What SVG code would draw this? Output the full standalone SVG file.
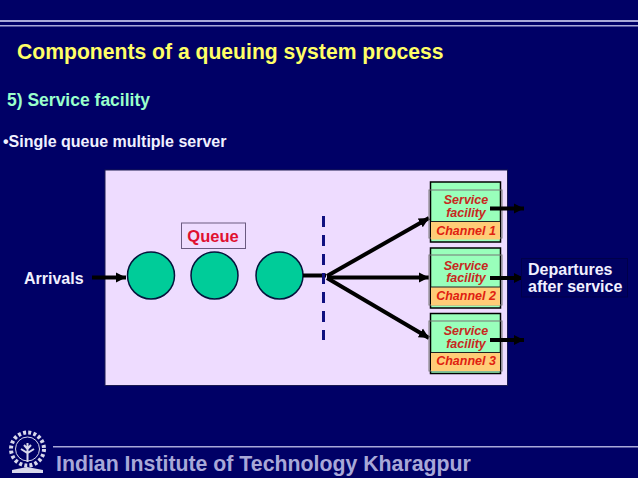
<svg xmlns="http://www.w3.org/2000/svg" width="638" height="478" viewBox="0 0 638 478">
<style>
text{font-family:"Liberation Sans",Arial,sans-serif;font-weight:bold}
.rule{fill:#a8a8d8}
.cust{fill:#00cc99;stroke:#04143c;stroke-width:1.5}
.conn{stroke:#000;stroke-width:4;fill:none}
.out{stroke:#000;stroke-width:4;fill:none}
.sf{fill:#c8281e;font-style:italic;font-size:12.5px;text-anchor:middle}
.ch{fill:#e02010;font-style:italic;font-size:12.5px;text-anchor:middle}
.w{fill:#f0f0ff;font-size:16px}
</style>
<defs>
<marker id="ah" markerUnits="userSpaceOnUse" markerWidth="12" markerHeight="12" refX="10" refY="6" orient="auto"><path d="M0,1L10,6L0,11Z" fill="#000"/></marker>
</defs>
<rect width="638" height="478" fill="#000066"/>
<rect class="rule" x="0" y="20" width="638" height="2"/>
<rect class="rule" x="0" y="25" width="638" height="1.500"/>
<text x="17" y="59" font-size="21.150" fill="#ffff66">Components of a queuing system process</text>
<text x="7" y="106" font-size="17.500" fill="#99ffcc">5) Service facility</text>
<text x="3" y="147" font-size="16" fill="#f0f0ff">•Single queue multiple server</text>
<rect x="105" y="170" width="402.500" height="215.500" fill="#eedcff" stroke="#1a1a50"/>
<g id="queue-label"><rect x="181.500" y="223" width="64" height="25.500" fill="#eedcff" stroke="#6a5a80" stroke-width="1"/><text x="213" y="242" font-size="16.500" fill="#e01030" text-anchor="middle">Queue</text></g>
<g id="customer-1"><circle class="cust" cx="151" cy="275.500" r="23.500"/></g>
<g id="customer-2"><circle class="cust" cx="214.500" cy="275.500" r="23.500"/></g>
<g id="customer-3"><circle class="cust" cx="279.500" cy="275.500" r="23.500"/></g>
<g id="connectors">
<path class="conn" d="M303,275.500H326" stroke-width="3.500"/>
<path class="conn" d="M327,276L429,218" marker-end="url(#ah)"/>
<path class="conn" d="M327,277.500H429" marker-end="url(#ah)"/>
<path class="conn" d="M327,278L429,338" marker-end="url(#ah)"/>
<path class="conn" d="M92,277.500H126" marker-end="url(#ah)"/>
<path d="M323.500,216V340" stroke="#101080" stroke-width="3" stroke-dasharray="11 8" fill="none"/>
</g>
<g id="channel-1"><rect x="430.500" y="182" width="70" height="60" fill="#99ffbb" stroke="#000" stroke-width="1.500"/><rect x="429" y="190" width="73" height="48" fill="none" stroke="#777" stroke-width="1"/><rect x="431" y="221.500" width="69" height="18" fill="#ffcc77"/><path d="M431,221.500H500" stroke="#222"/><text class="sf" x="466" y="204">Service</text><text class="sf" x="466" y="216.500">facility</text><text class="ch" x="466" y="234.500">Channel 1</text></g>
<g id="channel-2"><rect x="430.500" y="248" width="70" height="60" fill="#99ffbb" stroke="#000" stroke-width="1.500"/><rect x="429" y="255" width="73" height="50" fill="none" stroke="#777" stroke-width="1"/><rect x="431" y="287" width="69" height="18.500" fill="#ffcc77"/><path d="M431,287H500" stroke="#222"/><text class="sf" x="466" y="269.500">Service</text><text class="sf" x="466" y="282">facility</text><text class="ch" x="466" y="300">Channel 2</text></g>
<g id="channel-3"><rect x="430.500" y="313.500" width="70" height="60" fill="#99ffbb" stroke="#000" stroke-width="1.500"/><rect x="429" y="321" width="73" height="50" fill="none" stroke="#777" stroke-width="1"/><rect x="431" y="352.500" width="69" height="18.500" fill="#ffcc77"/><path d="M431,352.500H500" stroke="#222"/><text class="sf" x="466" y="335">Service</text><text class="sf" x="466" y="347.500">facility</text><text class="ch" x="466" y="365">Channel 3</text></g>
<g id="out-connectors">
<path class="out" d="M490,208.500H524" marker-end="url(#ah)"/>
<path class="out" d="M490,278H524" marker-end="url(#ah)"/>
<path class="out" d="M490,340H524" marker-end="url(#ah)"/>
</g>
<g id="arrivals"><text class="w" x="24" y="283.500">Arrivals</text></g>
<g id="departures"><rect x="521.500" y="258.500" width="106" height="38.500" fill="#000060" stroke="#00004a"/><text class="w" x="528" y="275">Departures</text><text class="w" x="528" y="292">after service</text></g>
<rect class="rule" x="53" y="446" width="585" height="1.500"/>
<g id="logo" fill="none" stroke="#d8d8ec">
<circle cx="27.500" cy="449" r="16.500" stroke-width="4" stroke-dasharray="3 2.200"/>
<circle cx="27.500" cy="449" r="12" stroke-width="1"/>
<path d="M27.500,443V462M21,449L27.500,453L34,449M24,445L27.500,449L31,445" stroke-width="2"/>
<path d="M12,470L27,467L43,470V473H12Z" fill="#d8d8ec" stroke="none"/>
</g>
<text x="56" y="471" font-size="21.300" fill="#a8a8d8">Indian Institute of Technology Kharagpur</text>
</svg>
